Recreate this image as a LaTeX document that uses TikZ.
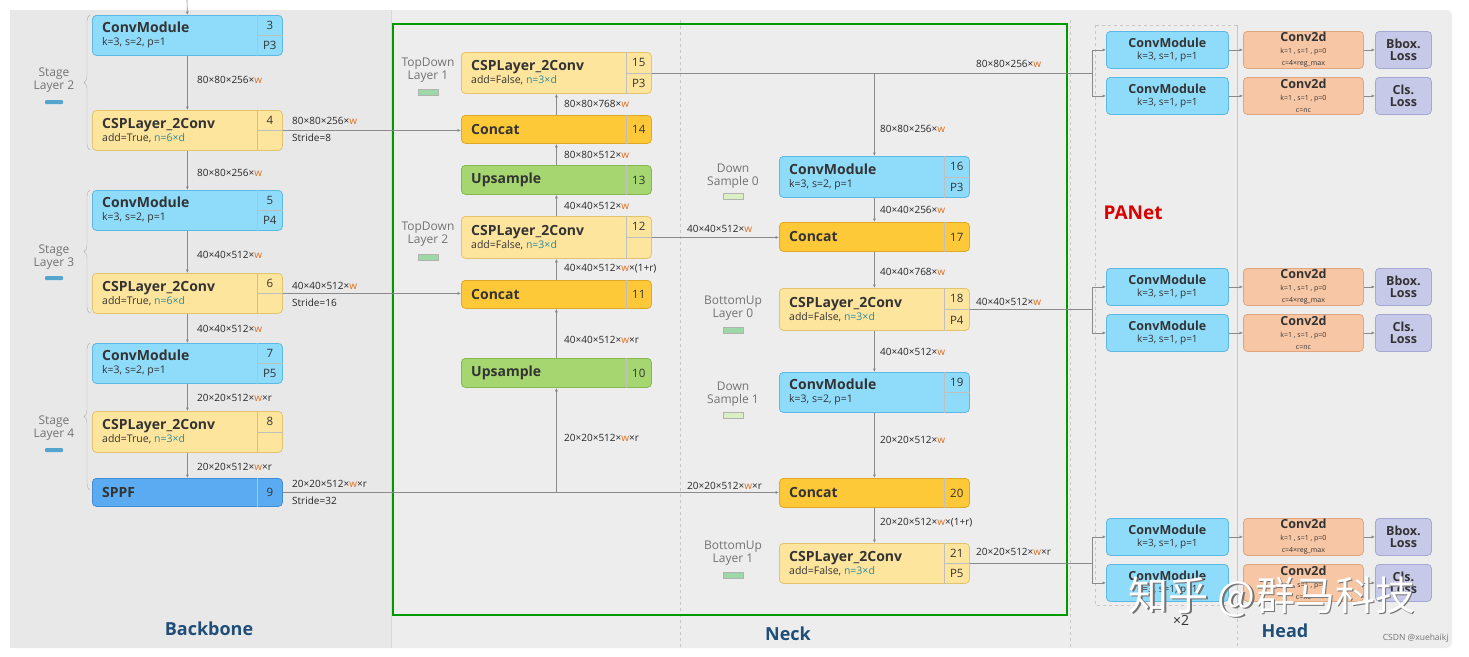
\documentclass[tikz,border=0pt]{standalone}
\usepackage{fontspec}
\setmainfont{Open Sans}
\newfontfamily\cjk{Noto Sans CJK SC}
\usetikzlibrary{arrows.meta,decorations.pathreplacing,calc}
\definecolor{bgc}{HTML}{EDEDED}
\definecolor{cbF}{HTML}{8FDBFA}\definecolor{cbD}{HTML}{5CB8E4}
\definecolor{cyF}{HTML}{FDE59E}\definecolor{cyD}{HTML}{E3C36E}
\definecolor{ccF}{HTML}{FDC938}\definecolor{ccD}{HTML}{E0A825}
\definecolor{cgF}{HTML}{A6D66F}\definecolor{cgD}{HTML}{86B850}
\definecolor{csF}{HTML}{5AABF2}\definecolor{csD}{HTML}{3F8ED6}
\definecolor{coF}{HTML}{F7C6A4}\definecolor{coD}{HTML}{DDA67F}
\definecolor{clF}{HTML}{C7C9E8}\definecolor{clD}{HTML}{A5A8D0}
\definecolor{tt}{HTML}{333333}
\definecolor{wcol}{HTML}{E07020}
\definecolor{ncol}{HTML}{2A8A9A}
\definecolor{lineg}{HTML}{8A8A8A}
\definecolor{ttl}{HTML}{1F4E79}
\newcommand\ww{\textcolor{wcol}{w}}
\newcommand\nn[1]{\textcolor{ncol}{#1}}
\newcommand\blk[9]{%
\node[blk,#5,minimum height=#4pt,anchor=north west] (#1) at (#2,#3) {};
\draw[sepl] ([xshift=-26pt]#1.north east) -- ([xshift=-26pt]#1.south east);
\draw[sepl] ([xshift=-26pt]#1.east) -- (#1.east);
\node[anchor=west,align=left,inner sep=0pt,text=tt] at ([xshift=10pt]#1.west) {\fontsize{14}{15}\selectfont\bfseries #6\\[1pt]\fontsize{10.5}{11}\selectfont #7};
\node[num] at ($(#1.north east)+(-13,10)$) {#8};
\node[num] at ($(#1.south east)+(-13,-10)$) {#9};}
\newcommand\sblk[7]{%
\node[blk,#5,minimum height=#4pt,anchor=north west] (#1) at (#2,#3) {};
\draw[sepl] ([xshift=-26pt]#1.north east) -- ([xshift=-26pt]#1.south east);
\node[anchor=west,inner sep=0pt,text=tt,font=\fontsize{14}{15}\selectfont\bfseries] at ([xshift=10pt]#1.west) {#6};
\node[num] at ($(#1.east)+(-13,0)$) {#7};}
\newcommand\hgrp[3]{%
\node[hb,cb,minimum width=122pt,anchor=north west] (#1a) at (1106,#2) {\hbt{ConvModule}\\\hbs{k=3, s=1, p=1}};
\node[hb,cb,minimum width=122pt,anchor=north west] (#1b) at (1106,{#2+46}) {\hbt{ConvModule}\\\hbs{k=3, s=1, p=1}};
\node[hb,co,minimum width=120pt,anchor=north west] (#1c) at (1243,#2) {\hbt{Conv2d}\\\hbx{k=1 , s=1 , p=0}\\\hbx{c=4×reg\_max}};
\node[hb,co,minimum width=120pt,anchor=north west] (#1d) at (1243,{#2+46}) {\hbt{Conv2d}\\\hbx{k=1 , s=1 , p=0}\\\hbx{c=nc}};
\node[hb,cl,minimum width=56pt,anchor=north west] (#1e) at (1375,#2) {\hbt{Bbox.}\\\hbt{Loss}};
\node[hb,cl,minimum width=56pt,anchor=north west] (#1f) at (1375,{#2+46}) {\hbt{Cls.}\\\hbt{Loss}};
\coordinate (#1j) at (jx |- #3.east);
\draw[ln] (#3.east) -- (#1j);
\draw[arr] (#1j) |- (#1a.west);
\draw[arr] (#1j) |- (#1b.west);
\draw[arr] (#1a) -- (#1c); \draw[arr] (#1b) -- (#1d);
\draw[arr] (#1c) -- (#1e); \draw[arr] (#1d) -- (#1f);}
\newcommand\hbt[1]{{\fontsize{12.5}{13.5}\selectfont\bfseries #1}}
\newcommand\hbs[1]{{\fontsize{10}{11}\selectfont #1}}
\newcommand\hbx[1]{{\fontsize{7}{7.5}\selectfont #1}}
\begin{document}
\begin{tikzpicture}[x=1pt,y=-1pt,
  blk/.style={draw,rounded corners=4pt,minimum width=190pt,inner sep=0pt,line width=0.8pt},
  cb/.style={fill=cbF,draw=cbD},cy/.style={fill=cyF,draw=cyD},cc/.style={fill=ccF,draw=ccD},
  cg/.style={fill=cgF,draw=cgD},cs/.style={fill=csF,draw=csD},co/.style={fill=coF,draw=coD},
  cl/.style={fill=clF,draw=clD},
  sepl/.style={draw=black!25,line width=0.6pt},
  num/.style={font=\fontsize{11.5}{12}\selectfont,text=tt,inner sep=0pt},
  hb/.style={draw,rounded corners=4pt,minimum height=37pt,inner sep=0pt,align=center,text=tt,line width=0.8pt},
  lbl/.style={font=\fontsize{10}{11}\selectfont,text=black!85,anchor=west,inner sep=1pt},
  side/.style={font=\fontsize{12}{13.5}\selectfont,text=black!55,align=center,inner sep=0pt},
  icon/.style={fill=#1,draw=black!30,line width=0.3pt},
  arr/.style={draw=lineg,line width=0.6pt,-{Latex[length=3.5pt,width=3pt]}},
  ln/.style={draw=lineg,line width=0.6pt},
  big/.style={font=\fontsize{18}{19}\selectfont\bfseries,text=ttl}]
\useasboundingbox (0,0) rectangle (1469,656);
\fill[white] (0,0) rectangle (1469,656);
\fill[bgc,rounded corners=6pt] (10,10) rectangle (1452,648);
\fill[black!2!bgc] (10,10) rectangle (391,648);
\draw[black!15,line width=0.8pt] (391,10) -- (391,648);
\draw[black!22,dashed] (680,20) -- (680,648);
\draw[black!22,dashed] (1070,20) -- (1070,648);
\draw[black!22,dashed] (1095,25) rectangle (1237,605);
\draw[black!22,dashed] (1237,25) -- (1237,648);
\draw[green!60!black,line width=1.3pt] (393,24) rectangle (1067,615);
\coordinate (jx) at (1092,0);
% backbone
\blk{n3}{92}{15}{40}{cb}{ConvModule}{k=3, s=2, p=1}{3}{P3}
\blk{n4}{92}{110}{40}{cy}{CSPLayer\_2Conv}{add=True, \nn{n=6×d}}{4}{}
\blk{n5}{92}{190}{40}{cb}{ConvModule}{k=3, s=2, p=1}{5}{P4}
\blk{n6}{92}{273}{40}{cy}{CSPLayer\_2Conv}{add=True, \nn{n=6×d}}{6}{}
\blk{n7}{92}{343}{40}{cb}{ConvModule}{k=3, s=2, p=1}{7}{P5}
\blk{n8}{92}{411}{41}{cy}{CSPLayer\_2Conv}{add=True, \nn{n=3×d}}{8}{}
\sblk{n9}{92}{478}{28}{cs}{SPPF}{9}
% neck
\blk{n15}{461}{52}{41}{cy}{CSPLayer\_2Conv}{add=False, \nn{n=3×d}}{15}{P3}
\sblk{n14}{461}{115}{28}{cc}{Concat}{14}
\sblk{n13}{461}{165}{29}{cg}{Upsample}{13}
\blk{n12}{461}{216}{42}{cy}{CSPLayer\_2Conv}{add=False, \nn{n=3×d}}{12}{}
\sblk{n11}{461}{280}{28}{cc}{Concat}{11}
\sblk{n10}{461}{358}{29}{cg}{Upsample}{10}
\blk{n16}{779}{156}{41}{cb}{ConvModule}{k=3, s=2, p=1}{16}{P3}
\sblk{n17}{779}{222}{29}{cc}{Concat}{17}
\blk{n18}{779}{288}{42}{cy}{CSPLayer\_2Conv}{add=False, \nn{n=3×d}}{18}{P4}
\blk{n19}{779}{372}{40}{cb}{ConvModule}{k=3, s=2, p=1}{19}{}
\sblk{n20}{779}{478}{29}{cc}{Concat}{20}
\blk{n21}{779}{543}{40}{cy}{CSPLayer\_2Conv}{add=False, \nn{n=3×d}}{21}{P5}
% connectors
\coordinate (top) at (187,0);
\draw[arr] (top) -- (n3.north);
\draw[arr] (n3) -- (n4); \draw[arr] (n4) -- (n5); \draw[arr] (n5) -- (n6);
\draw[arr] (n6) -- (n7); \draw[arr] (n7) -- (n8); \draw[arr] (n8) -- (n9);
\draw[arr] (n4.east) -- (n4.east -| n14.west);
\draw[arr] (n6.east) -- (n6.east -| n11.west);
\draw[arr] (n9.east) -- (n9.east -| n20.west);
\draw[arr] (n10.south |- n9.east) -- (n10.south);
\draw[arr] (n10) -- (n11); \draw[arr] (n11) -- (n12); \draw[arr] (n12) -- (n13);
\draw[arr] (n13) -- (n14); \draw[arr] (n14) -- (n15);
\draw[arr] (n16.north |- n15.east) -- (n16.north);
\draw[arr] (n12.east) -- (n12.east -| n17.west);
\draw[arr] (n16) -- (n17); \draw[arr] (n17) -- (n18); \draw[arr] (n18) -- (n19);
\draw[arr] (n19) -- (n20); \draw[arr] (n20) -- (n21);
% head
\hgrp{ha}{31}{n15}
\hgrp{hb}{268}{n18}
\hgrp{hc}{518}{n21}
% labels
\foreach \yy/\tx in {80/80×80×256×\ww,173/80×80×256×\ww,255/40×40×512×\ww,329/40×40×512×\ww,398/20×20×512×\ww×r,467/20×20×512×\ww×r}
  \node[lbl] at (196,\yy) {\tx};
\foreach \yy/\tx in {121/80×80×256×\ww,138/Stride=8,286/40×40×512×\ww,303/Stride=16,484/20×20×512×\ww×r,501/Stride=32}
  \node[lbl] at (291,\yy) {\tx};
\foreach \yy/\tx in {104/80×80×768×\ww,155/80×80×512×\ww,206/40×40×512×\ww,269/40×40×512×\ww×(1+r),340/40×40×512×\ww×r,438/20×20×512×\ww×r}
  \node[lbl] at (563,\yy) {\tx};
\node[lbl] at (686,229) {40×40×512×\ww};
\node[lbl] at (686,486) {20×20×512×\ww×r};
\foreach \yy/\tx in {129/80×80×256×\ww,210/40×40×256×\ww,272/40×40×768×\ww,352/40×40×512×\ww,440/20×20×512×\ww,523/20×20×512×\ww×(1+r)}
  \node[lbl] at (879,\yy) {\tx};
\node[lbl] at (975,64) {80×80×256×\ww};
\node[lbl] at (975,302) {40×40×512×\ww};
\node[lbl] at (975,552) {20×20×512×\ww×r};
% stage labels
\foreach \nm/\yy/\bt/\ya/\yb in {2/80/102/15/150,3/257/278/190/313,4/428/450/343/490}{
  \node[side] at (54,\yy) {Stage\\Layer \nm};
  \fill[cbD!90!black,rounded corners=1pt] (45,{\bt-2}) rectangle (63,{\bt+2});
  \draw[black!30,decorate,decoration={brace,amplitude=6pt}] (90,\yb) -- (90,\ya);}
% neck side labels
\foreach \xx/\yy/\tx/\ic/\col in {428/70/TopDown\\Layer 1/92/cgF!60!cbF,428/234/TopDown\\Layer 2/257/cgF!60!cbF,733/176/Down\\Sample 0/196/cgF!40!white,733/308/BottomUp\\Layer 0/330/cgF!60!cbF,733/394/Down\\Sample 1/415/cgF!40!white,733/553/BottomUp\\Layer 1/575/cgF!60!cbF}{
  \node[side] at (\xx,\yy) {\tx};
  \draw[icon=\col] ({\xx-10},{\ic-3}) rectangle ({\xx+10},{\ic+3});}
\node[big,text=red!85!black,font=\fontsize{19}{20}\selectfont\bfseries] at (1133,213) {PANet};
\node[big] at (209,629) {Backbone};
\node[big] at (788,634) {Neck};
\node[big] at (1285,631) {Head};
\node[font=\fontsize{14}{15}\selectfont,text=tt] at (1181,620) {×2};
\node[text=black!55,font=\fontsize{40}{42}\selectfont\cjk] at (1273.5,598.5) {知乎 @群马科技};
\node[text=white,font=\fontsize{40}{42}\selectfont\cjk] at (1272,597) {知乎 @群马科技};
\node[text=black!55,font=\fontsize{8.5}{9}\selectfont,anchor=east] at (1452,638) {CSDN @xuehaikj};
\end{tikzpicture}
\end{document}
